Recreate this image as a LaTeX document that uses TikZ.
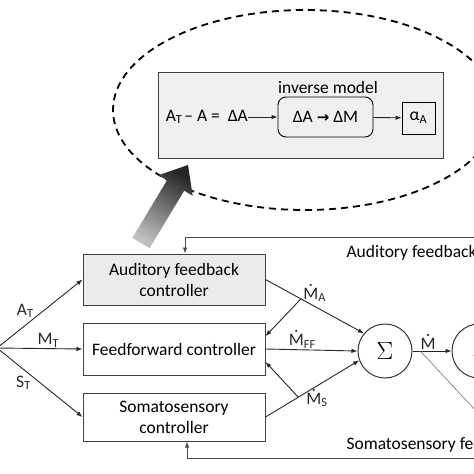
\documentclass[tikz,border=0pt]{standalone}
\usepackage{fontspec}
\setmainfont{Carlito}
\newfontfamily\arrowfont{DejaVu Sans}
\usetikzlibrary{arrows.meta,calc}

\newcommand{\lsub}[1]{\textsubscript{#1}}
\newcommand{\mrate}{\accent"02D9 M}

\begin{document}
\begin{tikzpicture}[x=1pt,y=-1pt,
  font=\fontsize{17.5}{21}\selectfont,
  ctrl/.style={draw=black!75,line width=1pt,minimum width=182,minimum height=51,align=center,inner sep=0pt},
  sumnode/.style={circle,draw=black!80,line width=1pt,minimum size=54,inner sep=0pt},
  sig/.style={-{Latex[length=6pt,width=4.5pt]},line width=0.9pt,black!85},
  lbl/.style={inner sep=1pt}]
  \useasboundingbox (0,0) rectangle (474,474);
  \clip (0,0) rectangle (474,474);

  % inverse model inset
  \draw[dash pattern=on 7pt off 5pt,line width=1.8pt] (305,110) ellipse [x radius=192,y radius=100];
  \node[draw=black!75,fill=black!6,line width=1pt,minimum width=285,minimum height=86] (inv) at (300.5,115) {};
  \node (invlbl) at (328,87) {inverse model};
  \node[draw,rounded corners=8pt,line width=0.9pt,minimum width=95,minimum height=40] (map) at (325.5,117) {ΔA {\arrowfont\bfseries\fontsize{15}{15}\selectfont →} ΔM};
  \node[draw,line width=0.8pt,minimum width=33,minimum height=32,inner sep=0pt] (alpha) at (418.5,118) {α\lsub{A}};
  \node[anchor=east,inner sep=0pt] (err) at (248,117) {A\lsub{T}\kern-2pt\ – A = \ ΔA};
  \draw[sig] (err) -- (map);
  \draw[sig] (map) -- (alpha);

  \shade[top color=black!85,bottom color=black!25,shading angle=-31]
    (132.4,237.8) -- (167.0,180.3) -- (158.5,175.2) -- (188,165)
    -- (192.7,195.8) -- (184.2,190.7) -- (149.6,248.2) -- cycle;

  % controllers
  \node[ctrl,fill=black!8] (aud) at (174,279.5) {Auditory feedback\\controller};
  \node[ctrl,minimum height=52] (ff) at (174,349) {Feedforward controller};
  \node[ctrl,minimum height=48] (som) at (174,417) {Somatosensory\\controller};
  \node[sumnode] (sum) at (385,351) {\fontsize{30}{30}\selectfont$\Sigma$};
  \node[sumnode] (int) at (479,351) {\fontsize{30}{30}\selectfont\hspace*{-5pt}$\int$};

  \coordinate (tgt) at (-3,348);
  \draw[sig] (tgt) -- node[lbl,pos=0.33,above=6pt] {A\lsub{T}} (aud.west);
  \draw[sig] (tgt) -- node[lbl,pos=0.6,above] {M\lsub{T}} (ff.west);
  \draw[sig] (tgt) -- node[lbl,pos=0.31,below=5pt] {S\lsub{T}} (som.west);

  \draw[sig] (aud.east) -- node[lbl,pos=0.5,above=3pt] {\mrate\lsub{A}} (sum.140);
  \draw[sig] (ff.east) -- node[lbl,pos=0.4,above] {\mrate\lsub{FF}} (sum.west);
  \draw[sig] (som.east) -- node[lbl,pos=0.55,below=2pt] {\mrate\lsub{S}} (sum.200);
  \coordinate (ba) at ($(aud.east)!0.36!(sum.140)$);
  \coordinate (bs) at ($(som.east)!0.35!(sum.200)$);
  \draw[sig] (ba) -- (ff.8);
  \draw[sig] (bs) -- (ff.-8);

  \draw[sig] (sum.east) -- node[lbl,pos=0.4,above] {\mrate} (int.west);
  \coordinate (mo) at ($(sum.east)!0.2!(int.west)$);
  \coordinate (gend) at (490,426);
  \draw[black!55,line width=0.6pt] (mo) -- (gend);

  % feedback loops
  \coordinate (afb) at (480,237);
  \coordinate (sfb) at (480,458);
  \draw[sig,black!70] (afb) -| (aud.67);
  \draw[sig,black!70] (sfb) -| (som.-62);
  \node[anchor=west] (afbl) at (343,253) {Auditory feedback};
  \node[anchor=west] (sfbl) at (343,445) {Somatosensory feedback};
\end{tikzpicture}
\end{document}
